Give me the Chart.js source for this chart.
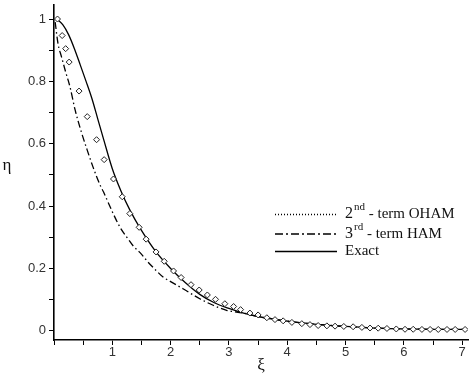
<!DOCTYPE html>
<html>
<head>
<meta charset="utf-8">
<script src="https://cdn.jsdelivr.net/npm/chart.js@4/dist/chart.umd.min.js"></script>
<style>
  html, body { margin: 0; padding: 0; background: #fff; }
  canvas { display: block; }
</style>
</head>
<body>
<canvas id="c" width="474" height="374"></canvas>
<script>
// ---- data ----
const seriesLabels = ['2nd - term OHAM', '3rd - term HAM', 'Exact'];

// 2nd-term OHAM (diamond markers)
const ohamX = [0.06,0.14,0.20,0.26,0.43,0.57,0.73,0.86,1.02,1.17,1.30,1.46,1.58,1.75,1.89,2.05,2.18,2.35,2.49,2.63,2.77,2.93,3.08,3.20,3.36,3.50,3.65,3.79,3.93,4.08,4.25,4.39,4.53,4.68,4.82,4.97,5.13,5.28,5.42,5.56,5.71,5.87,6.02,6.16,6.31,6.45,6.59,6.74,6.88,7.05];
const ohamY = [1.0,0.947,0.905,0.862,0.769,0.687,0.613,0.549,0.487,0.430,0.376,0.332,0.294,0.253,0.223,0.192,0.171,0.148,0.131,0.115,0.101,0.087,0.078,0.068,0.057,0.051,0.042,0.036,0.032,0.027,0.023,0.020,0.017,0.016,0.015,0.014,0.013,0.011,0.009,0.0085,0.0076,0.006,0.005,0.005,0.0045,0.0044,0.0044,0.0044,0.0044,0.0044];

// 3rd-term HAM (dash-dot line)
const hamX = [0.02,0.07,0.13,0.20,0.275,0.36,0.47,0.56,0.67,0.79,0.85,1.00,1.13,1.25,1.36,1.48,1.60,1.76,1.88,2.00,2.22,2.50,2.73,2.96,3.25,3.50,4.00,4.50,5.00,5.50,6.00,6.50,7.05];
const hamY = [0.99,0.92,0.878,0.83,0.782,0.71,0.637,0.585,0.525,0.468,0.445,0.382,0.333,0.300,0.272,0.250,0.223,0.192,0.171,0.158,0.134,0.103,0.082,0.066,0.057,0.046,0.031,0.021,0.014,0.009,0.006,0.0047,0.0044];

// Exact (solid line)
const exactX = [0.05,0.15,0.25,0.35,0.45,0.55,0.65,0.75,0.85,1.00,1.15,1.30,1.50,1.75,2.00,2.25,2.50,2.75,3.00,3.25,3.50,4.00,4.50,5.00,5.50,6.00,6.50,7.05];
const exactY = [1.0,0.982,0.950,0.905,0.853,0.800,0.745,0.680,0.615,0.520,0.448,0.388,0.322,0.253,0.200,0.155,0.117,0.090,0.072,0.057,0.046,0.031,0.021,0.014,0.009,0.006,0.0047,0.0044];

const xAxisTitle = 'ξ';
const yAxisTitle = 'η';
const xMajorLabels = [1,2,3,4,5,6,7];
const yMajorLabels = [0,0.2,0.4,0.6,0.8,1];

const toPts = (xs, ys) => xs.map((x, i) => ({x: x, y: ys[i]}));

const legendDashes = [[1, 2], [8, 3, 2, 3], []];

const customLegend = {
  id: 'customLegend',
  afterDraw(chart) {
    const ctx = chart.ctx;
    const x0 = 275, x1 = 337, tx = 345;
    const baselines = [218, 237.5, 255];
    ctx.save();
    seriesLabels.forEach((lab, i) => {
      const by = baselines[i];
      ctx.beginPath();
      ctx.setLineDash(legendDashes[i]);
      ctx.lineWidth = i === 0 ? 1.6 : 1.3;
      ctx.strokeStyle = '#000';
      ctx.moveTo(x0, by - 3.5);
      ctx.lineTo(x1, by - 3.5);
      ctx.stroke();
      ctx.setLineDash([]);
      ctx.fillStyle = '#111';
      ctx.textBaseline = 'alphabetic';
      ctx.textAlign = 'left';
      const m = lab.match(/^(\d)(st|nd|rd|th)(.*)$/);
      let x = tx;
      if (m) {
        ctx.font = '16px "Liberation Serif"';
        ctx.fillText(m[1], x, by);
        x += ctx.measureText(m[1]).width + 1;
        ctx.font = '11px "Liberation Serif"';
        ctx.fillText(m[2], x, by - 8);
        x += ctx.measureText(m[2]).width;
        ctx.font = '15px "Liberation Serif"';
        ctx.fillText(m[3], x, by);
      } else {
        ctx.font = '15px "Liberation Serif"';
        ctx.fillText(lab, x, by);
      }
    });
    // vertical-axis title (drawn upright as in the reference)
    ctx.font = '17px "Liberation Serif"';
    ctx.textAlign = 'center';
    ctx.textBaseline = 'middle';
    ctx.fillStyle = '#111';
    ctx.fillText(yAxisTitle, 7, 166);
    ctx.restore();
  }
};

new Chart(document.getElementById('c'), {
  type: 'line',
  data: {
    datasets: [
      {
        label: seriesLabels[0],
        data: toPts(ohamX, ohamY),
        showLine: false,
        pointStyle: 'rectRot',
        pointRadius: 3,
        pointBorderWidth: 1,
        pointBorderColor: '#222',
        pointBackgroundColor: '#fff',
        order: 0
      },
      {
        label: seriesLabels[1],
        data: toPts(hamX, hamY),
        borderColor: '#000',
        borderWidth: 1.3,
        borderDash: [7, 3, 1.5, 3],
        pointRadius: 0,
        cubicInterpolationMode: 'monotone',
        fill: false,
        order: 2
      },
      {
        label: seriesLabels[2],
        data: toPts(exactX, exactY),
        borderColor: '#000',
        borderWidth: 1.3,
        pointRadius: 0,
        cubicInterpolationMode: 'monotone',
        fill: false,
        order: 1
      }
    ]
  },
  options: {
    responsive: false,
    animation: false,
    devicePixelRatio: 1,
    layout: { padding: { left: 0, right: 6, top: 0, bottom: 0 } },
    plugins: { legend: { display: false }, tooltip: { enabled: false } },
    scales: {
      x: {
        type: 'linear',
        min: 0,
        max: 7.1,
        afterFit(s) { s.height = 34; s.paddingLeft = 0; s.paddingRight = 0; },
        border: { display: true, color: '#000', width: 1.6 },
        grid: { drawOnChartArea: false, drawTicks: true, tickLength: 5, color: '#000', tickWidth: 1 },
        ticks: {
          stepSize: 0.5,
          includeBounds: false,
          autoSkip: false,
          maxRotation: 0,
          padding: 0,
          color: '#333',
          font: { family: '"Liberation Sans"', size: 13 },
          callback(v) {
            const r = Math.round(v * 10) / 10;
            return xMajorLabels.includes(r) ? String(r) : '';
          }
        },
        title: {
          display: true,
          text: xAxisTitle,
          color: '#111',
          font: { family: '"Liberation Serif"', size: 17, lineHeight: 1 },
          padding: { top: 0, bottom: 0 }
        }
      },
      y: {
        type: 'linear',
        min: -0.0294,
        max: 1.045,
        afterFit(s) { s.width = 54; s.paddingTop = 0; s.paddingBottom = 0; },
        border: { display: true, color: '#000', width: 1.6 },
        grid: { drawOnChartArea: false, drawTicks: true, tickLength: 5, color: '#000', tickWidth: 1 },
        ticks: {
          stepSize: 0.1,
          includeBounds: false,
          autoSkip: false,
          padding: 3,
          color: '#333',
          font: { family: '"Liberation Sans"', size: 13 },
          callback(v) {
            const r = Math.round(v * 10) / 10;
            return yMajorLabels.includes(r) ? String(r) : '';
          }
        }
      }
    }
  },
  plugins: [customLegend]
});
</script>
</body>
</html>
